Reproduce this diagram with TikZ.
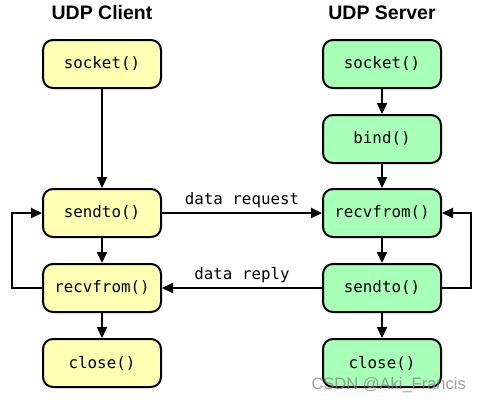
\documentclass[tikz,border=0pt]{standalone}
\usepackage{fontspec}
\setmainfont{Liberation Sans}
\newfontfamily\monof{DejaVu Sans Mono}
\usetikzlibrary{arrows.meta}
\definecolor{cyel}{HTML}{FFFFB3}
\definecolor{cgrn}{HTML}{A8FFB8}
\tikzset{
  box/.style={draw, line width=2pt, rounded corners=10pt, minimum width=118pt, minimum height=48pt, font=\monof\fontsize{15.8}{18}\selectfont, inner sep=0pt},
  cbox/.style={box, fill=cyel},
  sbox/.style={box, fill=cgrn},
  conn/.style={line width=2pt, -{Triangle[length=11pt,width=10pt]}},
  lbl/.style={font=\monof\fontsize{15.8}{18}\selectfont, inner sep=1pt},
  hdr/.style={font=\bfseries\fontsize{19.5}{22}\selectfont, inner sep=0pt}
}
\begin{document}
\begin{tikzpicture}[x=1pt,y=-1pt]
\useasboundingbox (0,0) rectangle (481,402);
\node[hdr] (hc) at (102,13) {UDP Client};
\node[hdr] (hs) at (382,13) {UDP Server};
\node[cbox] (c1) at (102,64) {socket()};
\node[cbox] (c2) at (102,213) {sendto()};
\node[cbox] (c3) at (102,288) {recvfrom()};
\node[cbox] (c4) at (102,363) {close()};
\node[sbox] (s1) at (382,64) {socket()};
\node[sbox] (s2) at (382,139) {bind()};
\node[sbox] (s3) at (382,213) {recvfrom()};
\node[sbox] (s4) at (382,288) {sendto()};
\node[sbox] (s5) at (382,363) {close()};
\draw[conn] (c1) -- (c2);
\draw[conn] (c2) -- (c3);
\draw[conn] (c3) -- (c4);
\draw[conn] (s1) -- (s2);
\draw[conn] (s2) -- (s3);
\draw[conn] (s3) -- (s4);
\draw[conn] (s4) -- (s5);
\draw[conn] (c2) -- node[lbl, above=3pt] {data request} (s3);
\draw[conn] (s4) -- node[lbl, above=3pt] {data reply} (c3);
\coordinate (lc) at (12,288);
\coordinate (rc) at (471,288);
\draw[conn, line join=miter] (c3.west) -- (lc) |- (c2.west);
\draw[conn, line join=miter] (s4.east) -- (rc) |- (s3.east);
\node[font=\fontsize{16.5}{18}\selectfont, text=gray, opacity=0.75, anchor=east, inner sep=0pt] (wm) at (466,385) {CSDN @Aki\_Francis};
\end{tikzpicture}
\end{document}
